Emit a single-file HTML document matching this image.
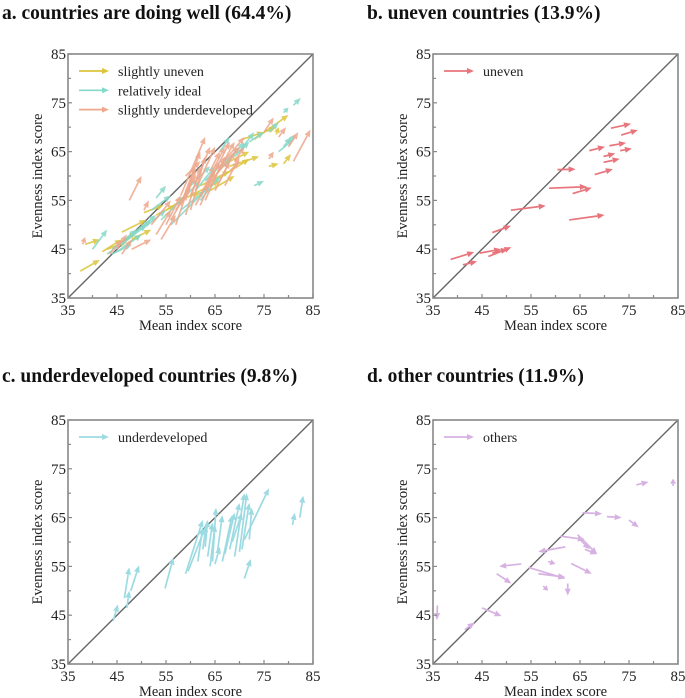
<!DOCTYPE html>
<html><head><meta charset="utf-8">
<style>
body{margin:0;background:#fff;}
svg{display:block;font-family:"Liberation Serif",serif;}
.title{font-weight:bold;font-size:19.5px;fill:#111;}
.tick{font-size:15px;fill:#222;}
.axt{font-size:14.5px;fill:#222;}
.leg{font-size:14px;fill:#222;}
</style></head>
<body>
<svg id="chart" width="685" height="698" viewBox="0 0 685 698">
<text class="title" x="2" y="19">a. countries are doing well (64.4%)</text>
<text class="title" x="367" y="19">b. uneven countries (13.9%)</text>
<text class="title" x="2" y="382">c. underdeveloped countries (9.8%)</text>
<text class="title" x="367" y="382">d. other countries (11.9%)</text>
</svg>
<script>
// data: [x0, y0, x1, y1] in index-score units
const aYellow = [[37.5,40.5,41.5,42.8],[38.5,46,41.5,47],[50.5,52.5,54.5,54],[46,48.5,51,51],[70.5,67.5,75,69],[73,67.5,80,72.5],[75,69,77.5,70],[77.5,68.5,78,70],[76,62,78,62.5],[79,62.5,80.5,64.5],[65,59,72,63.5],[64,57,69,60],[57,55,62,56.5],[68,62,74,64],[42,44.5,46,47],[47,46,50,48],[53,52,57,54],[43,45,47,46.5],[48,47,52,49],[55,53,59,55.5],[60,56,66,59],[66,62,72,65],[45,46,49,48.5],[62,58,68,61]];
const aTeal = [[81,74.5,82.5,76],[79,73,80,74],[76,69,78,71],[80,67,81.5,68.5],[79,66,80.5,68],[72,67,75,69],[69,64,72,67],[73,58,75,59],[40,45,43,49],[44,45,49,49],[52,53,56,56],[53,55.5,55,58],[60,58,64,62],[56,50,64,58],[58,53,63,57],[62,55,66,60],[47,47,52,51],[44,44,48,46],[65,60,70,66],[66,65,68,68],[43,44,47,47],[45,44.5,50,48],[48,48,53,52],[50,49,55,53],[54,51,59,56],[57,54,62,59],[61,57,65,62],[63,59,68,64],[67,62,71,67],[70,65,73,69],[78,65,81,67.5],[46,46,51,50]];
const aSalmon = [[38,46,38.5,47.5],[47.5,55,50,60],[50.5,53,51.5,55],[54,47,57,52],[58,56,63,68],[59,52,62,62],[60,56,64,66],[61,54,66,63],[62,56,67,66],[63,57,68,67],[64,58,69,67],[56,51,60,58],[55,50,58,56],[65,60,70,66],[66,62,71,68],[75,69,77,72],[78,68,79.5,70],[81,63,84.5,69.5],[80,66,82,69],[76,63.5,77,65],[45,45,47,48],[46,44,48,47],[48,45,52,47],[43.5,44,46,47],[59,60,62,63],[57,53,61,60],[68,61,70,63],[57,50,61,62],[58,54,62,65],[60,53,63,64],[61,57,65,66],[62,54,65,61],[63,55,67,64],[64,61,66,65],[65,57,69,65],[67,58,70,64],[66,59,68,63],[52,50,56,55],[53,48,56,53],[59,55,61,61],[69,63,71,66]];
const bUneven = [[71.3,69.8,75.4,70.7],[73.4,68.4,76.8,69.4],[66.9,65.2,70.1,66.0],[71.0,66.2,74.4,66.8],[69.8,64.0,72.2,64.6],[73.2,65.2,75.6,65.6],[69.8,62.8,73.1,63.5],[68.0,60.3,71.7,61.4],[60.4,61.3,64.1,61.4],[58.7,57.5,66.4,57.8],[63.5,56.4,67.4,57.6],[62.8,51.0,70.0,52.0],[50.9,53.0,58.0,53.9],[47.1,48.4,50.9,49.8],[38.6,42.9,43.4,44.4],[41.1,41.8,44.0,42.5],[44.5,44.2,48.9,45.0],[46.3,43.5,51.0,45.4],[47.1,44.2,50.3,45.0]];
const cUnder = [[44.2,43.8,45.2,47.2],[46.5,48.5,47.5,54.8],[47,46.5,47.5,50],[47.8,50,49.5,55.2],[54.8,50.5,56.5,56.8],[59,53.5,62.5,64.5],[59.5,54,63,63],[62.5,58.5,63.2,63.5],[63.5,57,64.5,64],[64,55,65,63.5],[64.5,56,65.2,67],[65,55.5,66,59],[65.5,58,66.5,65.5],[66.5,56,68.5,65.5],[67,57.5,69,66],[68,58.5,70,68],[68.5,60,70.5,66],[69,57,71,70],[70,58,71.5,70],[70.5,58.5,72,68],[72,60.5,72.5,67],[71,60.5,76,71],[71,52.5,72.3,56.5],[80.8,63.5,81.3,66],[82.3,65,83,69.5],[61.5,56,62.5,63],[63,59,63.5,64.5]];
const dOthers = [[35.9,47,35.8,44],[41.5,42,43.5,43.5],[45,46.5,49,44.8],[48,53.5,51,51.5],[53,55.5,48.5,55],[54.5,54.8,62,52.5],[56.5,53.5,62,52.8],[62,59,56.5,58],[57.5,51,58.5,50],[58.5,56,60,55.5],[61,61.2,66,60.5],[62.5,51.5,62.5,49],[64.5,61.5,68.5,57.5],[65,60.5,67,58.5],[66,58.5,68.5,57.5],[63.2,55.6,67.4,53.5],[65.5,66,69.5,65.8],[70.5,65.2,73.5,65],[75,64.5,77,63],[76.5,71.7,79,72.3],[84,71.5,84,73]];
const ticks = [35,45,55,65,75,85];

const NS='http://www.w3.org/2000/svg';
const svg=document.getElementById('chart');
function mk(tag,attrs,parent){const e=document.createElementNS(NS,tag);for(const k in attrs)e.setAttribute(k,attrs[k]);(parent||svg).appendChild(e);return e;}
const W=245,H=244,MIN=35,MAX=85;
function arrow(g,x0,y0,x1,y1,color,name,op){
  const dx=x1-x0,dy=y1-y0,L=Math.hypot(dx,dy)||1,ux=dx/L,uy=dy/L,hl=Math.min(7,L*0.7),hw=3;
  const bx=x1-ux*hl,by=y1-uy*hl;
  const a=mk('g',{opacity:op||1},g);
  
  
  mk('line',{x1:x0,y1:y0,x2:bx,y2:by,stroke:color,'stroke-width':1.7},a);
  mk('polygon',{points:`${x1},${y1} ${bx-uy*hw},${by+ux*hw} ${bx+uy*hw},${by-ux*hw}`,fill:color},a);
}
function panel(id,ox,oy,series,op){
  const g=mk('g',{});
  
  
  const sx=v=>ox+(v-MIN)/(MAX-MIN)*W, sy=v=>oy+H-(v-MIN)/(MAX-MIN)*H;
  const diag=mk('line',{x1:sx(35),y1:sy(35),x2:sx(85),y2:sy(85),stroke:'#666','stroke-width':1.4},g);
  
  
  series.forEach(s=>s.data.forEach(d=>arrow(g,sx(d[0]),sy(d[1]),sx(d[2]),sy(d[3]),s.color,s.name+'-arrow',op)));
  const fr=mk('rect',{x:ox,y:oy,width:W,height:H,fill:'none',stroke:'#888','stroke-width':1.6},g);
  
  
  for(let v=35;v<=85;v+=5){
    const big=(v-35)%10===0;
    mk('line',{x1:sx(v),y1:oy+H,x2:sx(v),y2:oy+H-(big?4:3),stroke:'#888','stroke-width':1.2},g);
    mk('line',{x1:ox,y1:sy(v),x2:ox+(big?4:3),y2:sy(v),stroke:'#888','stroke-width':1.2},g);
  }
  ticks.forEach(t=>{
    const tx=mk('text',{x:sx(t),y:oy+H+17,'text-anchor':'middle',class:'tick'},g);tx.textContent=t;
    
    
    const ty=mk('text',{x:ox-2,y:sy(t)+5,'text-anchor':'end',class:'tick'},g);ty.textContent=t;
    
    
  });
  const xt=mk('text',{x:ox+W/2,y:oy+H+32,'text-anchor':'middle',class:'axt'},g);xt.textContent='Mean index score';
  
  
  const cy=oy+H/2;
  const yt=mk('text',{x:ox-26,y:cy,'text-anchor':'middle',class:'axt',transform:`rotate(-90 ${ox-26} ${cy})`},g);yt.textContent='Evenness index score';
  
  
  series.forEach((s,i)=>{
    const ly=oy+17+i*19.3;
    const lg=mk('g',{},g);
    
    
    arrow(lg,ox+11,ly,ox+41,ly,s.color,'legend-arrow');
    const lt=mk('text',{x:ox+50,y:ly+5,class:'leg'},lg);lt.textContent=s.label;
  });
}
panel('panel-a',68,54,[{data:aYellow,color:'#dcc43c',name:'slightly-uneven',label:'slightly uneven'},{data:aTeal,color:'#86d8c8',name:'relatively-ideal',label:'relatively ideal'},{data:aSalmon,color:'#eea88c',name:'slightly-underdeveloped',label:'slightly underdeveloped'}],0.85);
panel('panel-b',433,54,[{data:bUneven,color:'#e8747c',name:'uneven',label:'uneven'}]);
panel('panel-c',68,420,[{data:cUnder,color:'#9ddbe2',name:'underdeveloped',label:'underdeveloped'}]);
panel('panel-d',433,420,[{data:dOthers,color:'#d6b2e2',name:'others',label:'others'}]);
</script>
</body></html>
